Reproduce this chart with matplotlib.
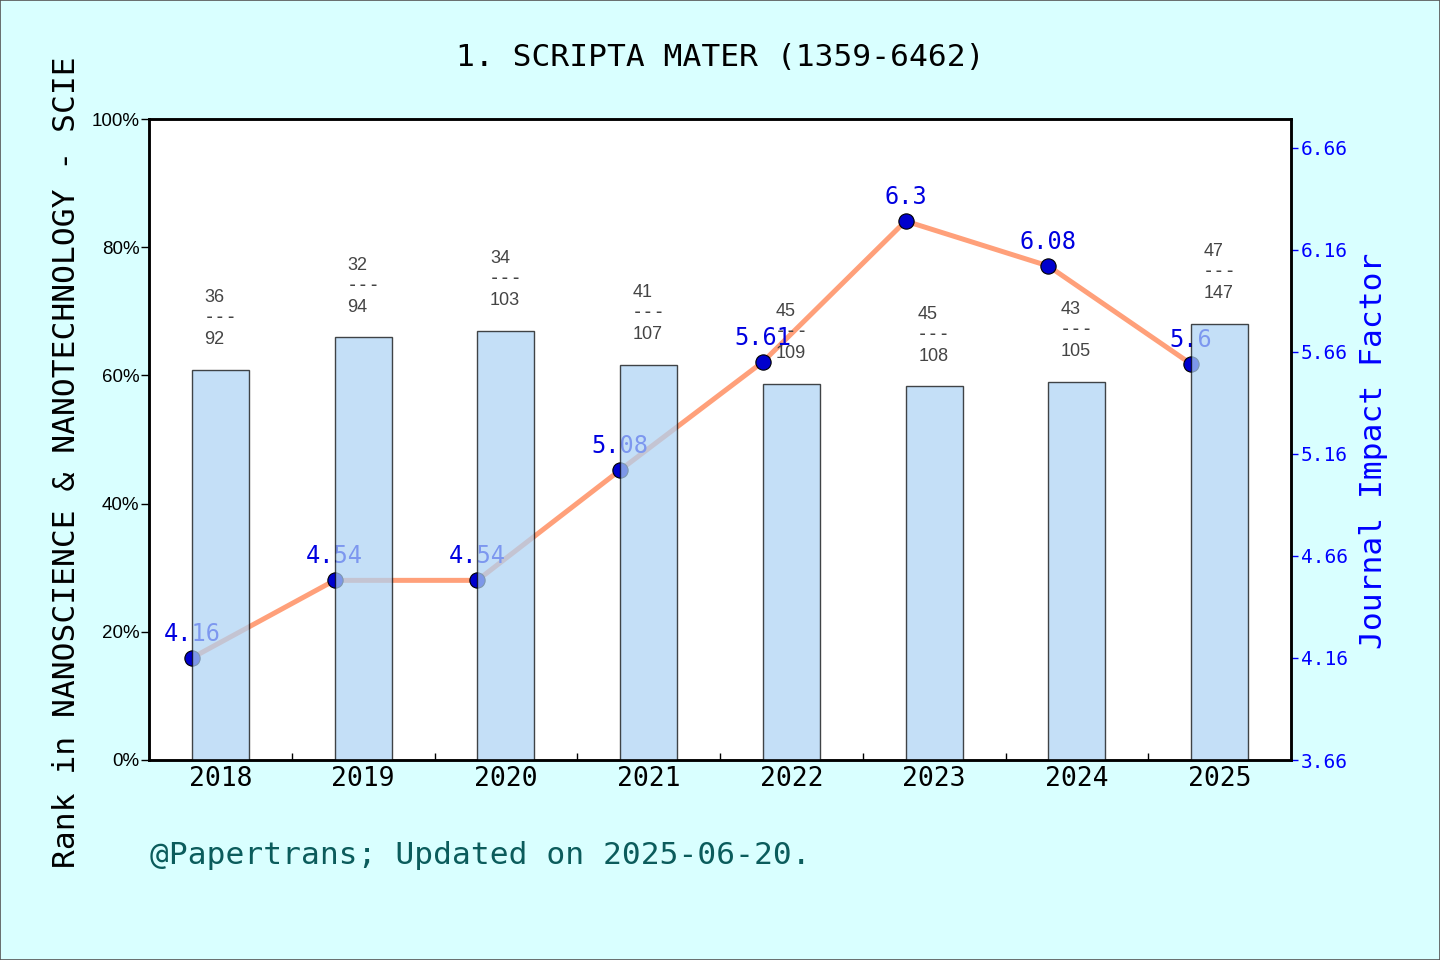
import matplotlib
matplotlib.use("Agg")
import matplotlib.pyplot as plt
from matplotlib.ticker import FixedLocator, PercentFormatter
from matplotlib.patches import Rectangle

years = ["2018", "2019", "2020", "2021", "2022", "2023", "2024", "2025"]
rank = [36, 32, 34, 41, 45, 45, 43, 47]
total = [92, 94, 103, 107, 109, 108, 105, 147]
impact = [4.16, 4.54, 4.54, 5.08, 5.61, 6.3, 6.08, 5.6]
if_labels = ["4.16", "4.54", "4.54", "5.08", "5.61", "6.3", "6.08", "5.6"]
right_ticks = [3.66, 4.16, 4.66, 5.16, 5.66, 6.16, 6.66]

title = "1. SCRIPTA MATER (1359-6462)"
left_label = "Rank in NANOSCIENCE & NANOTECHNOLOGY - SCIE"
right_label = "Journal Impact Factor"
footer = "@Papertrans; Updated on 2025-06-20."

MONO = "DejaVu Sans Mono"
SANS = "Liberation Sans"
PX = 0.72  # points per pixel at dpi 100

W, H = 1440, 960
fig = plt.figure(figsize=(W / 100, H / 100), dpi=100)
fig.patch.set_facecolor("#D9FFFF")
fig.patches.append(Rectangle((0, 0), 1, 1, transform=fig.transFigure,
                             fill=False, edgecolor="#555555", linewidth=1.2))

BAR_W = 0.4
x = list(range(len(years)))
x_line = [xi - BAR_W / 2 for xi in x]
pct = [1 - r / t for r, t in zip(rank, total)]

# primary axes: impact factor line (drawn beneath the bars)
ax = fig.add_axes([149 / W, (H - 760) / H, (1291 - 149) / W, (760 - 119) / H])
ax.set_facecolor("white")
ax.plot(x_line, impact, color="#FFA07A", linewidth=3.6, zorder=2)
ax.plot(x_line, impact, linestyle="none", marker="o", markersize=11,
        markerfacecolor="#0000CD", markeredgecolor="black",
        markeredgewidth=0.8, zorder=3)
for xi, v, lab in zip(x_line, impact, if_labels):
    ax.annotate(lab, (xi, v), xytext=(0, 24 * PX), textcoords="offset points",
                ha="center", va="center", fontsize=17, family=MONO,
                color="#0000E0", zorder=4)
ax.set_ylim(min(impact) - 0.5, max(impact) + 0.5)

# secondary axes: rank bars (drawn on top, semi-transparent)
ax2 = ax.twinx()
ax2.bar(x, pct, width=BAR_W, color="#AED3F5", alpha=0.72,
        edgecolor="black", linewidth=1.0, zorder=2)
for b in ax2.patches:
    b.set_edgecolor((0, 0, 0, 1))
for xi, p, r, t in zip(x, pct, rank, total):
    ax2.annotate(f"{r}", (xi, p), xytext=(-16 * PX, 72 * PX), textcoords="offset points",
                 ha="left", va="center", fontsize=13, family=SANS,
                 color="#444444", zorder=5)
    ax2.annotate("---", (xi, p), xytext=(0, 52 * PX), textcoords="offset points",
                 ha="center", va="center", fontsize=13.5, family=MONO,
                 color="#444444", zorder=5)
    ax2.annotate(f"{t}", (xi, p), xytext=(-16 * PX, 30 * PX), textcoords="offset points",
                 ha="left", va="center", fontsize=13, family=SANS,
                 color="#444444", zorder=5)
ax2.set_ylim(0, 1)

# axis sides: IF on the right, rank % on the left
ax.yaxis.tick_right()
ax.yaxis.set_label_position("right")
ax.set_yticks(right_ticks)
ax.set_yticklabels([f"{t:.2f}" for t in right_ticks])
ax.tick_params(axis="y", colors="#0000FF", labelsize=14, length=5, width=1,
               pad=2, direction="out", left=False, labelleft=False,
               right=True, labelright=True)
for lab in ax.get_yticklabels():
    lab.set_family(MONO)

ax2.yaxis.tick_left()
ax2.set_yticks([0, 0.2, 0.4, 0.6, 0.8, 1.0])
ax2.yaxis.set_major_formatter(PercentFormatter(1.0, decimals=0))
ax2.tick_params(axis="y", labelsize=13.5, length=6, width=1, pad=1,
                direction="out", colors="black", left=True, labelleft=True,
                right=False, labelright=False)
for lab in ax2.get_yticklabels():
    lab.set_family(SANS)

ax.set_xlim(-0.5, len(years) - 0.5)
ax.set_xticks(x)
ax.set_xticklabels(years)
ax.tick_params(axis="x", which="major", length=0, labelsize=19, pad=4)
for lab in ax.get_xticklabels():
    lab.set_family(MONO)
ax.xaxis.set_minor_locator(FixedLocator([i + 0.5 for i in x[:-1]]))
ax.tick_params(axis="x", which="minor", direction="in", length=5, width=1)

for a in (ax, ax2):
    for s in a.spines.values():
        s.set_linewidth(1.8)
        s.set_color("black")

fig.text(720 / W, 1 - 57 / H, title, ha="center", va="center",
         fontsize=22.5, family=MONO, color="black")
fig.text(67 / W, 1 - 462 / H, left_label, ha="center", va="center",
         rotation=90, fontsize=22.5, family=MONO, color="black")
fig.text(1373 / W, 1 - 451 / H, right_label, ha="center", va="center",
         rotation=90, fontsize=22.5, family=MONO, color="#0000FF")
fig.text(150 / W, 1 - 855 / H, footer, ha="left", va="center",
         fontsize=22.5, family=MONO, color="#0B5C5C")

fig.savefig("out.png", dpi=100, facecolor=fig.get_facecolor())
